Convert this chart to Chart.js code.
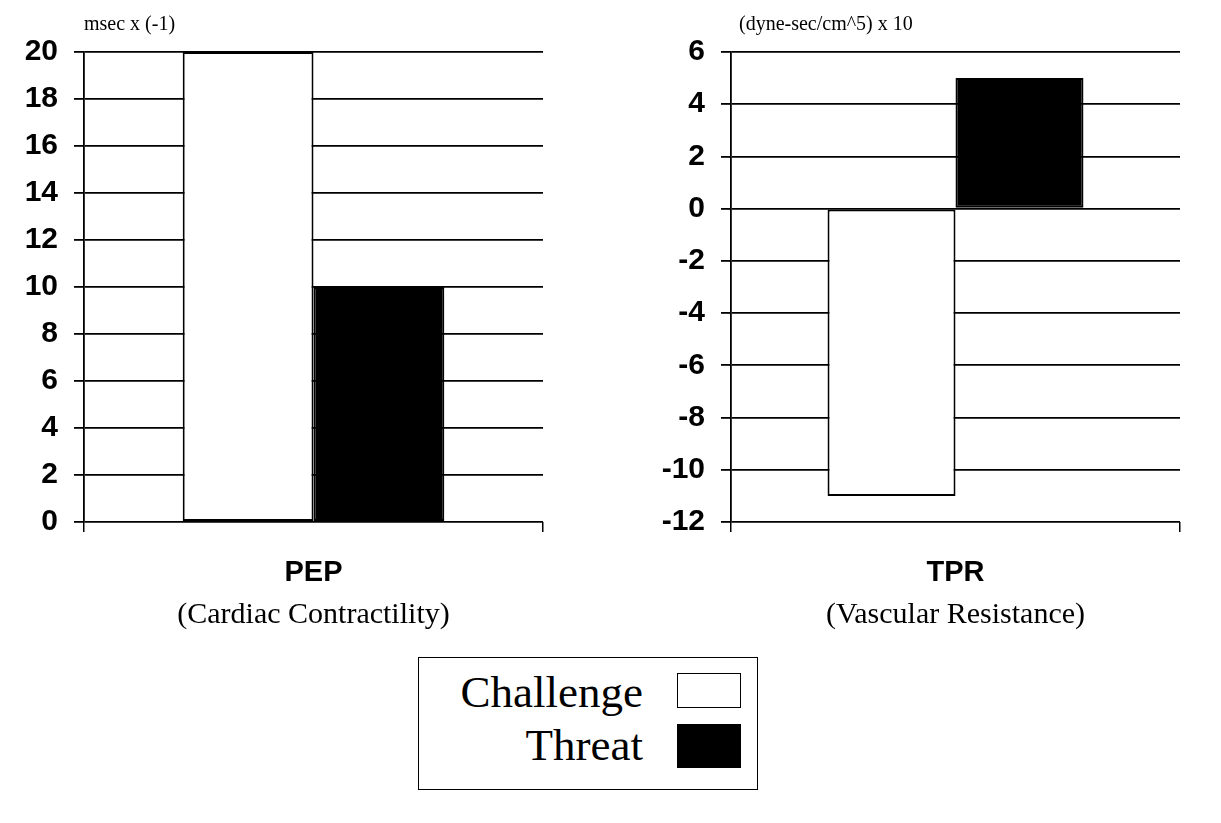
<!DOCTYPE html>
<html>
<head>
<meta charset="utf-8">
<script src="https://cdn.jsdelivr.net/npm/chart.js@4.4.1/dist/chart.umd.min.js"></script>
<style>
    body { margin: 0; background: #fff; width: 1221px; height: 823px; position: relative; overflow: hidden; }
    canvas { position: absolute; }
    #legend {
        position: absolute; left: 418px; top: 657px; width: 338px; height: 131px;
        border: 1.5px solid #000; font-family: "Liberation Serif", "Times New Roman", serif;
    }
    .row { position: absolute; left: 0; width: 338px; height: 50px; }
    .row span { position: absolute; right: 114px; font-size: 45px; line-height: 50px; }
    .swatch { position: absolute; left: 258px; width: 62px; border: 1.5px solid #000; }
</style>
</head>
<body>
<canvas id="pepChart" width="600" height="650" style="left:0;top:0"></canvas>
<canvas id="tprChart" width="581" height="650" style="left:640px;top:0"></canvas>
<div id="legend"></div>
<script>
// Data
const groupLabels = ['PEP', 'TPR'];
const groupSubtitles = ['(Cardiac Contractility)', '(Vascular Resistance)'];
const unitLabels = ['msec x (-1)', '(dyne-sec/cm^5) x 10'];
const seriesNames = ['Challenge', 'Threat'];
const seriesColors = ['#ffffff', '#000000'];
const challengeValues = [20, -11];
const threatValues = [10, 5];
const yMins = [0, -12];
const yMaxs = [20, 6];
const yStep = 2;

// Draws the unit text above the y axis
const unitLabelPlugin = {
    id: 'unitLabel',
    afterDraw(chart, args, opts) {
        const ctx = chart.ctx;
        ctx.save();
        ctx.font = '20px "Liberation Serif", "Times New Roman", serif';
        ctx.fillStyle = '#000';
        ctx.textBaseline = 'alphabetic';
        ctx.fillText(opts.text, chart.chartArea.left + opts.dx, 30);
        ctx.restore();
    }
};

function makeDataset(k, value) {
    return {
        label: seriesNames[k],
        data: [value],
        backgroundColor: seriesColors[k],
        borderColor: '#000',
        borderWidth: 2,
        borderSkipped: false,
        categoryPercentage: 0.57,
        barPercentage: 1.0,
    };
}

function makeChart(canvasId, i, axisWidth, padRight, unitDx) {
    const ctx = document.getElementById(canvasId).getContext('2d');
    return new Chart(ctx, {
        type: 'bar',
        data: {
            labels: [groupLabels[i]],
            datasets: [
                makeDataset(0, challengeValues[i]),
                makeDataset(1, threatValues[i]),
            ],
        },
        options: {
            responsive: false,
            animation: false,
            devicePixelRatio: 1,
            layout: { padding: { top: 52, right: padRight, left: 0, bottom: 0 } },
            plugins: {
                legend: { display: false },
                tooltip: { enabled: false },
                unitLabel: { text: unitLabels[i], dx: unitDx },
            },
            scales: {
                x: {
                    grid: { drawOnChartArea: false, drawTicks: true, tickLength: 10, color: '#000', lineWidth: 1.5 },
                    border: { display: false },
                    ticks: {
                        color: '#000',
                        padding: 24,
                        font: { family: '"Liberation Sans", Arial, sans-serif', size: 29, weight: 'bold' },
                    },
                    title: {
                        display: true,
                        text: groupSubtitles[i],
                        color: '#000',
                        font: { family: '"Liberation Serif", "Times New Roman", serif', size: 30 },
                        padding: { top: 0, bottom: 17 },
                    },
                    afterFit(scale) { scale.height = 128; },
                },
                y: {
                    min: yMins[i],
                    max: yMaxs[i],
                    grid: { color: '#000', lineWidth: 1.8, tickLength: 10 },
                    border: { display: true, color: '#000', width: 1.8 },
                    ticks: {
                        stepSize: yStep,
                        color: '#000',
                        padding: 16,
                        font: { family: '"Liberation Sans", Arial, sans-serif', size: 30, weight: 'bold' },
                    },
                    afterFit(scale) { scale.width = axisWidth; },
                },
            },
        },
        plugins: [unitLabelPlugin],
    });
}

makeChart('pepChart', 0, 84, 57, 0);
makeChart('tprChart', 1, 91, 41, 8);

// Shared legend box under both charts
const legend = document.getElementById('legend');
const swatchTops = [15, 66];
const swatchHeights = [33, 42];
const textTops = [9, 62];
seriesNames.forEach((name, k) => {
    const row = document.createElement('div');
    row.className = 'row';
    row.style.top = textTops[k] + 'px';
    row.innerHTML = '<span>' + name + '</span>';
    legend.appendChild(row);
    const sw = document.createElement('div');
    sw.className = 'swatch';
    sw.style.top = swatchTops[k] + 'px';
    sw.style.height = swatchHeights[k] + 'px';
    sw.style.background = seriesColors[k];
    legend.appendChild(sw);
});
</script>
</body>
</html>
